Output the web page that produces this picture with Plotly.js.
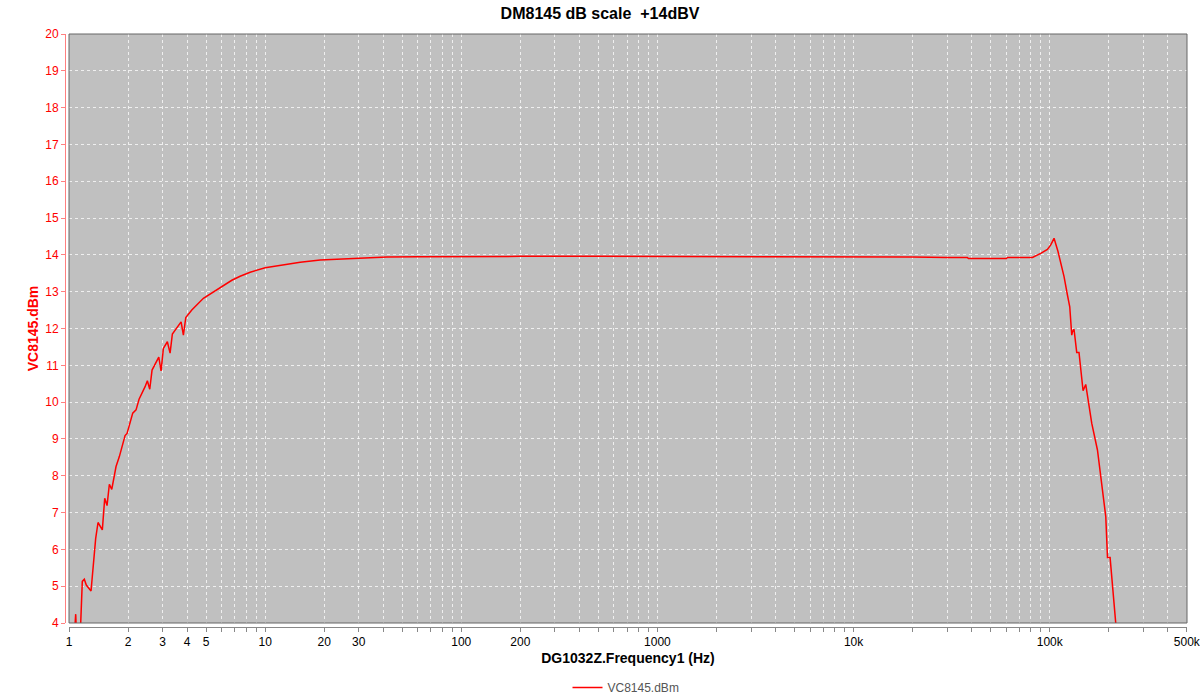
<!DOCTYPE html>
<html>
<head>
<meta charset="utf-8">
<script src="https://cdn.plot.ly/plotly-3.0.1.min.js"></script>
<style>html,body{margin:0;padding:0;background:#fff}#chart{width:1200px;height:700px}</style>
</head>
<body>
<div id="chart"></div>
<script>
// Frequency (Hz) and level (dBm)
const freq = [1.06,1.082,1.095,1.138,1.169,1.197,1.225,1.295,1.368,1.406,1.479,1.521,1.563,1.606,1.652,1.737,1.806,1.931,1.977,2.113,2.197,2.276,2.443,2.509,2.580,2.651,2.869,2.947,3.028,3.173,3.276,3.365,3.728,3.830,3.940,4.227,4.844,5.447,6.128,6.763,7.455,8.385,10,11.93,15.09,19.08,24.14,33.03,41.78,60,98.8,200,500,1000,2000,5000,10000,20000,30000,38000,38500,60000,61000,81600,89970,97300,101200,105200,110200,113800,118300,123100,126500,129500,130600,133000,137300,141000,147900,152600,160000,163800,175100,182000,193100,197000,203100,217100,222000];
const dbm = [3.5,4.24,3.5,3.5,5.13,5.19,5.03,4.87,6.3,6.73,6.53,7.39,7.19,7.77,7.63,8.25,8.52,9.09,9.15,9.70,9.79,10.08,10.42,10.58,10.35,10.87,11.22,10.85,11.46,11.64,11.33,11.85,12.18,11.82,12.30,12.50,12.82,13.0,13.18,13.31,13.42,13.53,13.65,13.72,13.80,13.86,13.89,13.92,13.94,13.95,13.96,13.96,13.96,13.96,13.95,13.95,13.95,13.94,13.93,13.93,13.90,13.90,13.93,13.93,14.04,14.15,14.27,14.45,14.09,13.77,13.41,12.91,12.59,11.82,11.91,11.98,11.35,11.35,10.31,10.48,9.70,9.42,8.70,7.93,6.89,5.78,5.78,3.99,3.8];

// x tick positions (1..9 per decade) and the labels shown
const xLabelled = {1:'1',2:'2',3:'3',4:'4',5:'5',10:'10',20:'20',30:'30',100:'100',200:'200',1000:'1000',10000:'10k',100000:'100k',500000:'500k'};
const decades = [1,10,100,1000,10000,100000];
const multipliers = [1,2,3,4,5,6,7,8,9];
const yTicks = [4,5,6,7,8,9,10,11,12,13,14,15,16,17,18,19,20];

const xTickVals = [];
decades.forEach(d => multipliers.forEach(m => { if (d*m <= 500000) xTickVals.push(d*m); }));
const xTickText = xTickVals.map(v => xLabelled[v] || '');

const font = 'Liberation Sans, Arial, sans-serif';

const trace = {
  x: freq, y: dbm, type: 'scatter', mode: 'lines',
  name: 'VC8145.dBm',
  line: {color: '#ff0000', width: 1.5}
};

const layout = {
  width: 1200, height: 700,
  margin: {l: 65, r: 13, t: 34, b: 73},
  paper_bgcolor: '#ffffff',
  plot_bgcolor: '#c0c0c0',
  font: {family: font, size: 12, color: '#000'},
  title: {text: '<b>DM8145 dB scale \u00a0+14dBV</b>', x: 0.5, xanchor: 'center', y: 0.981, yanchor: 'middle', font: {family: font, size: 16, color: '#000'}},
  showlegend: true,
  legend: {orientation: 'h', x: 0.5, xanchor: 'center', yref: 'container', y: 0.018, yanchor: 'middle', font: {family: font, size: 12, color: '#555'}},
  xaxis: {
    type: 'log', range: [0, Math.log10(501000)], domain: [4/1122, 1],
    anchor: 'free', position: 0, automargin: false,
    tickmode: 'array', tickvals: xTickVals, ticktext: xTickText,
    ticklabeloverflow: 'allow',
    showline: true, linecolor: '#888', linewidth: 1,
    ticks: 'outside', ticklen: 4, tickcolor: '#888',
    showgrid: true, gridcolor: 'rgba(255,255,255,0.75)', griddash: '3px,3px', gridwidth: 1,
    zeroline: false,
    tickfont: {family: font, size: 12, color: '#000'},
    title: {text: '<b>DG1032Z.Frequency1 (Hz)</b>', standoff: 4, font: {family: font, size: 14, color: '#000'}}
  },
  yaxis: {
    range: [4, 20], domain: [4/593, 1],
    anchor: 'free', position: 0, automargin: false,
    tickmode: 'array', tickvals: yTicks,
    showline: true, linecolor: '#ff8080', linewidth: 1,
    ticks: 'outside', ticklen: 4, tickcolor: '#ff8080',
    showgrid: true, gridcolor: 'rgba(255,255,255,0.75)', griddash: '3px,3px', gridwidth: 1,
    zeroline: false,
    tickfont: {family: font, size: 12, color: '#ff0000'},
    title: {text: '<b>VC8145.dBm</b>', standoff: 2, font: {family: font, size: 14, color: '#ff0000'}}
  },
  shapes: [{
    type: 'rect', xref: 'x domain', yref: 'y domain', x0: 0, x1: 1, y0: 0, y1: 1,
    line: {color: '#666', width: 1}, fillcolor: 'rgba(0,0,0,0)', layer: 'above'
  }]
};

Plotly.newPlot('chart', [trace], layout, {displayModeBar: false, staticPlot: true});
</script>
</body>
</html>
